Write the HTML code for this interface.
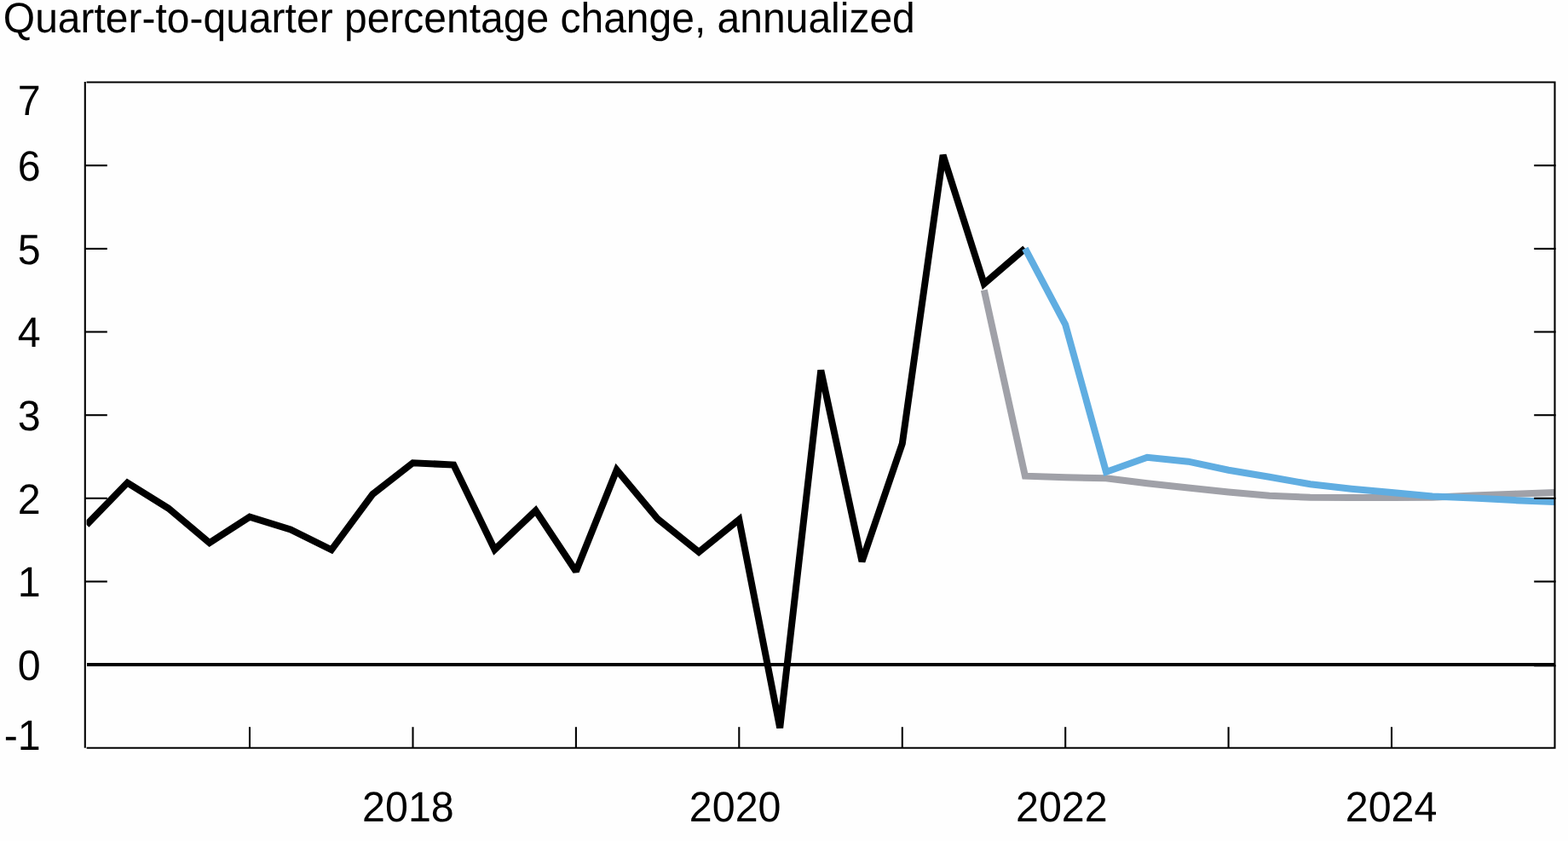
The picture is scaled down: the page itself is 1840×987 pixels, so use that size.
<!DOCTYPE html>
<html lang="en">
<head>
<meta charset="utf-8">
<title>Quarter-to-quarter percentage change, annualized</title>
<style>
html,body{margin:0;padding:0;background:#fefefe;}
body{width:1840px;height:987px;overflow:hidden;}
svg{display:block;}
text{font-family:"Liberation Sans", sans-serif;fill:#000;text-rendering:geometricPrecision;}
.title{font-size:48px;}
.lab{font-size:48.4px;}
.ax{stroke:#000;stroke-width:2.1;fill:none;stroke-linecap:butt;}
.ser{fill:none;stroke-width:8;stroke-linejoin:miter;stroke-miterlimit:2;stroke-linecap:butt;}
</style>
</head>
<body>
<svg width="1840" height="987" viewBox="0 0 1840 987">
<rect x="0" y="0" width="1840" height="987" fill="#fefefe"/>
<text class="title" transform="translate(3.8,37.8) scale(1,1.035)">Quarter-to-quarter percentage change, annualized</text>
<rect x="102" y="778" width="1722.5" height="4" fill="#000"/>
<clipPath id="plot"><rect x="101.6" y="96.5" width="1722.9" height="781.3"/></clipPath>
<g clip-path="url(#plot)">
<polyline class="ser" stroke="#000" points="101.6,616.0 149.5,566.5 197.6,596.5 245.8,637.0 293.0,606.6 340.9,621.4 389.0,645.3 437.2,580.1 484.5,543.2 532.3,545.6 580.5,645.0 628.6,599.3 675.9,670.5 723.7,551.5 771.9,609.2 820.1,647.8 867.3,609.7 915.2,854.2 963.3,434.5 1011.5,659.0 1058.8,520.6 1106.6,182.0 1154.8,333.1 1202.9,291.6"/>
<polyline class="ser" stroke="#a0a1a8" points="1154.8,340.3 1202.9,558.7 1250.2,560.3 1298.0,561.3 1346.2,567.3 1394.4,572.4 1441.6,577.4 1489.5,581.8 1537.6,583.8 1585.8,584.0 1633.0,584.0 1680.9,583.8 1729.1,581.4 1777.2,579.7 1824.5,578.1"/>
<polyline class="ser" stroke="#60ade1" points="1202.9,291.6 1250.2,381.0 1298.0,553.9 1346.2,536.8 1394.4,541.7 1441.6,551.7 1489.5,559.8 1537.6,568.3 1585.8,573.7 1633.0,578.1 1680.9,582.5 1729.1,584.6 1777.2,587.1 1824.5,589.0"/>
</g>
<line class="ax" x1="99.8" y1="96.0" x2="99.8" y2="877.8"/>
<polyline class="ax" points="101.6,96.5 1824.5,96.5 1824.5,877.8 101.6,877.8"/>
<line class="ax" x1="1800.2" y1="781.3" x2="1825.6" y2="781.3"/>
<line class="ax" x1="99.8" y1="682.5" x2="125.8" y2="682.5"/><line class="ax" x1="1800.2" y1="682.5" x2="1825.6" y2="682.5"/>
<line class="ax" x1="99.8" y1="584.8" x2="125.8" y2="584.8"/><line class="ax" x1="1800.2" y1="584.8" x2="1825.6" y2="584.8"/>
<line class="ax" x1="99.8" y1="487.2" x2="125.8" y2="487.2"/><line class="ax" x1="1800.2" y1="487.2" x2="1825.6" y2="487.2"/>
<line class="ax" x1="99.8" y1="389.5" x2="125.8" y2="389.5"/><line class="ax" x1="1800.2" y1="389.5" x2="1825.6" y2="389.5"/>
<line class="ax" x1="99.8" y1="291.9" x2="125.8" y2="291.9"/><line class="ax" x1="1800.2" y1="291.9" x2="1825.6" y2="291.9"/>
<line class="ax" x1="99.8" y1="194.2" x2="125.8" y2="194.2"/><line class="ax" x1="1800.2" y1="194.2" x2="1825.6" y2="194.2"/>
<line class="ax" x1="293.0" y1="853.2" x2="293.0" y2="877.8"/>
<line class="ax" x1="484.5" y1="853.2" x2="484.5" y2="877.8"/>
<line class="ax" x1="675.9" y1="853.2" x2="675.9" y2="877.8"/>
<line class="ax" x1="867.3" y1="853.2" x2="867.3" y2="877.8"/>
<line class="ax" x1="1058.8" y1="853.2" x2="1058.8" y2="877.8"/>
<line class="ax" x1="1250.2" y1="853.2" x2="1250.2" y2="877.8"/>
<line class="ax" x1="1441.6" y1="853.2" x2="1441.6" y2="877.8"/>
<line class="ax" x1="1633.0" y1="853.2" x2="1633.0" y2="877.8"/>
<text class="lab" transform="translate(47.7,135.4) scale(1,1.03)" text-anchor="end">7</text>
<text class="lab" transform="translate(47.7,211.9) scale(1,1.03)" text-anchor="end">6</text>
<text class="lab" transform="translate(47.7,309.6) scale(1,1.03)" text-anchor="end">5</text>
<text class="lab" transform="translate(47.7,407.2) scale(1,1.03)" text-anchor="end">4</text>
<text class="lab" transform="translate(47.7,504.9) scale(1,1.03)" text-anchor="end">3</text>
<text class="lab" transform="translate(47.7,602.6) scale(1,1.03)" text-anchor="end">2</text>
<text class="lab" transform="translate(47.7,700.2) scale(1,1.03)" text-anchor="end">1</text>
<text class="lab" transform="translate(47.7,797.9) scale(1,1.03)" text-anchor="end">0</text>
<text class="lab" transform="translate(47.7,880.0) scale(1,1.03)" text-anchor="end">-1</text>
<text class="lab" transform="translate(478.9,963.6) scale(1,1.03)" text-anchor="middle">2018</text>
<text class="lab" transform="translate(862.7,963.6) scale(1,1.03)" text-anchor="middle">2020</text>
<text class="lab" transform="translate(1245.8,963.6) scale(1,1.03)" text-anchor="middle">2022</text>
<text class="lab" transform="translate(1632.6,963.6) scale(1,1.03)" text-anchor="middle">2024</text>
</svg>
</body>
</html>
